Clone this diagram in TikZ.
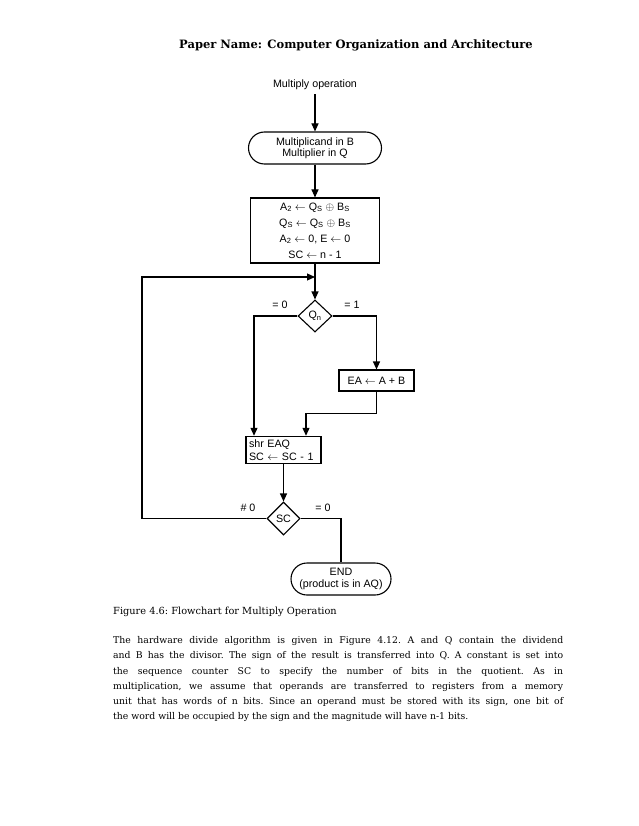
\documentclass[tikz,border=0pt]{standalone}
\usepackage{fontspec}
\usetikzlibrary{arrows.meta,shapes.geometric}
\newfontfamily\flowfont{Liberation Sans}
\newfontfamily\serifpara{DejaVu Serif}
\begin{document}
\begin{tikzpicture}[x=1pt,y=-1pt,
  ln/.style={line width=1.1pt},
  arr/.style={ln,-{Triangle[length=8pt,width=7pt]}},
  ff/.style={font=\flowfont\fontsize{10.7}{#1}\selectfont},
  box/.style={draw,line width=1.1pt,inner sep=2pt,ff=13},
  term/.style={box,rounded corners=16pt},
  dec/.style={draw,line width=1.1pt,diamond,inner sep=0pt,ff=12},
  lbl/.style={inner sep=0pt,ff=12},
  serif/.style={inner sep=0pt,font=\serifpara\frenchspacing\fontsize{#1}{15.2}\selectfont}
]
\fill[white] (0,0) rectangle (638,826);

\node[inner sep=0pt,anchor=base,font=\serifpara\bfseries\fontsize{11.5}{14}\selectfont] (title) at (356,49)
  {Paper Name: Computer Organization and Architecture};

\node[lbl] (op) at (315,85) {Multiply operation};
\node[term,minimum width=133pt,minimum height=32pt,align=center,ff=11.5] (start) at (315,148)
  {Multiplicand in B\\Multiplier in Q};
\node[box,minimum width=129pt,minimum height=65pt,align=center,ff=16] (init) at (315,230.5)
  {A\textsubscript{2} $\leftarrow$ Q\textsubscript{S} $\oplus$ B\textsubscript{S}\\
   Q\textsubscript{S} $\leftarrow$ Q\textsubscript{S} $\oplus$ B\textsubscript{S}\\
   A\textsubscript{2} $\leftarrow$ 0, E $\leftarrow$ 0\\
   SC $\leftarrow$ n - 1};
\coordinate (loop) at (315,277);
\coordinate (loopcorner) at (142,277);
\node[dec,minimum width=34pt,minimum height=32pt] (qn) at (315,316) {Q\textsubscript{n}};
\node[box,minimum width=75pt,minimum height=21pt] (ea) at (376.5,380.5) {EA $\leftarrow$ A + B};
\node[box,minimum width=75pt,minimum height=26pt,text width=69pt,inner sep=3pt,align=left,ff=13.5] (shr) at (283.5,450)
  {shr EAQ\\SC $\leftarrow$ SC - 1};
\node[dec,minimum width=33pt,minimum height=33pt] (sc) at (283.5,518.5) {SC};
\node[term,minimum width=100pt,minimum height=32pt,align=center,ff=12.5] (end) at (341,579)
  {END\\(product is in AQ)};

\node[lbl] (l1) at (280,305) {= 0};
\node[lbl] (l2) at (352,305) {= 1};
\node[lbl] (l3) at (248,508) {\# 0};
\node[lbl] (l4) at (323,508) {= 0};

\draw[arr] ([yshift=-4pt]op.south) -- (start.north);
\draw[arr] (start.south) -- (init.north);
\draw[ln] (init.south) -- (loop);
\draw[arr] (loop) -- (qn.north);
\draw[arr] (sc.west) -| (loopcorner) -- (loop);
\draw[arr] (qn.west) -| ([xshift=-29.5pt]shr.north);
\draw[arr] (qn.east) -| (ea.north);
\draw[arr] (ea.south) -- ++(0,22) -| ([xshift=22.5pt]shr.north);
\draw[arr] (shr.south) -- (sc.north);
\draw[ln] (sc.east) -| (end.north);

\node[serif=9.8,anchor=base west] (cap) at (113,614) {Figure 4.6: Flowchart for Multiply Operation};
\node[serif=9.3,anchor=north west,text width=450pt,align=justify] (para) at (113,636.5)
  {The hardware divide algorithm is given in Figure 4.12. A and Q contain the dividend\linebreak
   and B has the divisor. The sign of the result is transferred into Q. A constant is set into\linebreak
   the sequence counter SC to specify the number of bits in the quotient. As in\linebreak
   multiplication, we assume that operands are transferred to registers from a memory\linebreak
   unit that has words of n bits. Since an operand must be stored with its sign, one bit of\linebreak
   the word will be occupied by the sign and the magnitude will have n-1 bits.};
\end{tikzpicture}
\end{document}
